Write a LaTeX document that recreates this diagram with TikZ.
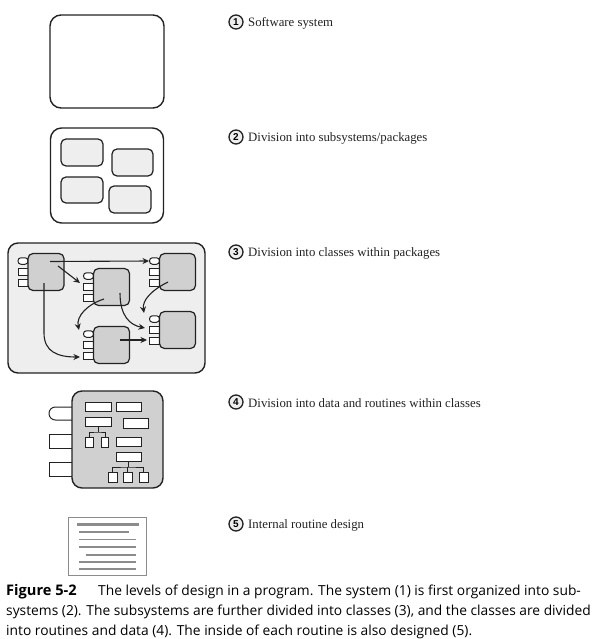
\documentclass[tikz,border=0pt]{standalone}
\usepackage{fontspec}
\setmainfont{Liberation Serif}
\newfontfamily\capfont{Open Sans}
\newfontfamily\numfont{Liberation Sans}
\usetikzlibrary{arrows.meta}
\definecolor{ink}{HTML}{222222}
\definecolor{lightfill}{HTML}{EEEEEE}
\definecolor{midfill}{HTML}{D0D0D0}
\definecolor{docgray}{HTML}{8C8C8C}
\tikzset{
  bigbox/.style={draw=ink,line width=1.4pt,rounded corners=11pt,inner sep=0pt},
  subbox/.style={draw=ink,line width=1.2pt,fill=lightfill,rounded corners=5pt,inner sep=0pt},
  clsbox/.style={draw=ink,line width=1.2pt,fill=midfill,rounded corners=5pt,inner sep=0pt,minimum width=36pt,minimum height=37pt},
  port/.style={draw=ink,line width=1pt,fill=white,inner sep=0pt,minimum width=10pt,minimum height=6.5pt},
  bigport/.style={draw=ink,line width=1pt,fill=white,inner sep=0pt,minimum width=25pt,minimum height=14pt},
  arr/.style={draw=ink,line width=1.1pt,-{Stealth[length=6.5pt,width=6pt]}},
  datbox/.style={draw=ink,line width=1pt,fill=white,inner sep=0pt},
  tline/.style={draw=ink,line width=0.9pt},
  docline/.style={draw=docgray,line width=1.7pt},
  circnum/.style={circle,draw=ink,line width=1.3pt,fill=lightfill,inner sep=0pt,minimum size=14pt,font=\numfont\bfseries\fontsize{10}{10}\selectfont},
  lbl/.style={anchor=west,inner sep=0pt,font=\fontsize{12.8}{14}\selectfont,text=ink},
  capline/.style={anchor=west,inner sep=0pt,font=\capfont\fontsize{13.8}{16}\selectfont}
}
\begin{document}
\begin{tikzpicture}[x=1pt,y=-1pt]
\useasboundingbox (0,0) rectangle (599,639);
% ---------- level 1 ----------
\node[bigbox,fill=white,minimum width=114pt,minimum height=93pt] (sys) at (107,61.5) {};
% ---------- level 2 ----------
\node[bigbox,fill=white,minimum width=113pt,minimum height=95pt] (sub) at (107,175.5) {};
\node[subbox,minimum width=42pt,minimum height=27pt] (pa) at (82,152.5) {};
\node[subbox,minimum width=41pt,minimum height=27pt] (pb) at (132.5,162.5) {};
\node[subbox,minimum width=42pt,minimum height=26pt] (pc) at (82,190) {};
\node[subbox,minimum width=42pt,minimum height=27pt] (pd) at (130,199.5) {};
% ---------- level 3 ----------
\node[bigbox,fill=lightfill,minimum width=197pt,minimum height=130pt,rounded corners=10pt] (pkg) at (106.5,308) {};
\foreach \n/\cx/\cy in {c1/46/272, c2/111.5/287, c3/177.5/272, c4/111.5/345, c5/177.5/330}{
  \node[port,rounded corners=3pt] (\n p1) at (\cx-23,\cy-11) {};
  \node[port] (\n p2) at (\cx-23,\cy) {};
  \node[port] (\n p3) at (\cx-23,\cy+11) {};
  \node[clsbox] (\n) at (\cx,\cy) {};
}
\coordinate (s1) at (50,261.5);
\coordinate (s2) at (58,266);
\coordinate (e2) at (80,283);
\coordinate (s3) at (44,283);
\coordinate (e3) at (80,357);
\coordinate (s4) at (104,299);
\coordinate (e4) at (79,330);
\coordinate (s5) at (120,293);
\coordinate (e5) at (145,328);
\coordinate (s6) at (168,282);
\coordinate (e6) at (144,313);
\coordinate (s7) at (120,340);
\coordinate (e7) at (147,340);
\draw[arr] (s1) -- (c3p1.west);
\draw[arr] (s2) -- (e2);
\draw[arr] (s3) -- (44,333) .. controls (44,352) and (58,357) .. (e3);
\draw[arr] (s4) .. controls (88,304) and (76,316) .. (e4);
\draw[arr] (s5) .. controls (120,316) and (130,325) .. (e5);
\draw[arr] (s6) .. controls (152,290) and (142,300) .. (e6);
\draw[arr] (s7) -- (e7);
% ---------- level 4 ----------
\draw[draw=ink,line width=1pt,fill=white,rounded corners=6.4pt] (76,407) -- (49,407) -- (49,420) -- (76,420);
\node[bigport] (q2) at (61.5,441) {};
\node[bigport] (q3) at (61.5,469) {};
\node[draw=ink,line width=1.4pt,fill=midfill,rounded corners=10pt,inner sep=0pt,minimum width=91pt,minimum height=97pt] (cls) at (117.5,439.5) {};
\node[datbox,minimum width=26pt,minimum height=9pt] (r1) at (98,406.5) {};
\node[datbox,minimum width=25pt,minimum height=9pt] (r2) at (128.5,406.5) {};
\node[datbox,minimum width=26pt,minimum height=9pt] (r3) at (98,421.5) {};
\node[datbox,minimum width=25pt,minimum height=10pt] (r4) at (135.5,423) {};
\node[datbox,minimum width=7.5pt,minimum height=10pt] (t1) at (89.5,442) {};
\node[datbox,minimum width=7.5pt,minimum height=10pt] (t2) at (105,442) {};
\node[datbox,minimum width=25pt,minimum height=9pt] (r5) at (128.5,441.5) {};
\node[datbox,minimum width=25pt,minimum height=9pt] (r6) at (128.5,456.5) {};
\node[datbox,minimum width=9pt,minimum height=10pt] (u1) at (112.5,477) {};
\node[datbox,minimum width=9pt,minimum height=10pt] (u2) at (127.5,477) {};
\node[datbox,minimum width=9pt,minimum height=10pt] (u3) at (143.5,477) {};
\draw[tline] (r3.south) -- ++(0,5.5) coordinate (j1);
\draw[tline] (t1.north) |- (j1) -| (t2.north);
\draw[tline] (r6.south) -- ++(0,5.5) coordinate (j2);
\draw[tline] (u1.north) |- (j2) -| (u3.north);
\draw[tline] (u2.north) -- (u2.north |- j2);
% ---------- level 5 ----------
\node[draw=docgray,line width=1pt,fill=white,inner sep=0pt,minimum width=78pt,minimum height=58pt] (doc) at (107,546) {};
\draw[docline,line width=3pt] (77,524) -- (139,524);
\draw[docline] (79,532) -- (129,532);
\draw[docline] (79,539.5) -- (136,539.5);
\draw[docline] (79,547) -- (136,547);
\draw[docline] (86,555) -- (136,555);
\draw[docline] (79,562) -- (136,562);
\draw[docline] (79,569) -- (136,569);
% ---------- labels ----------
\foreach \k/\y/\t in {1/22/{Software system}, 2/137/{Division into subsystems/packages}, 3/252/{Division into classes within packages}, 4/402/{Division into data and routines within classes}, 5/524/{Internal routine design}}{
  \node[circnum] (n\k) at (236,\y) {\k};
  \node[lbl] (l\k) at (248,\y+1) {\t};
}
% ---------- caption ----------
\node[capline,font=\capfont\bfseries\fontsize{14.6}{16}\selectfont] (cap0) at (6,592) {Figure 5-2};
\node[capline] (cap1) at (98,592) {The levels of design in a program. The system (1) is first organized into sub-};
\node[capline] (cap2) at (6,612) {systems (2). The subsystems are further divided into classes (3), and the classes are divided};
\node[capline] (cap3) at (6,631.5) {into routines and data (4). The inside of each routine is also designed (5).};
\end{tikzpicture}
\end{document}
